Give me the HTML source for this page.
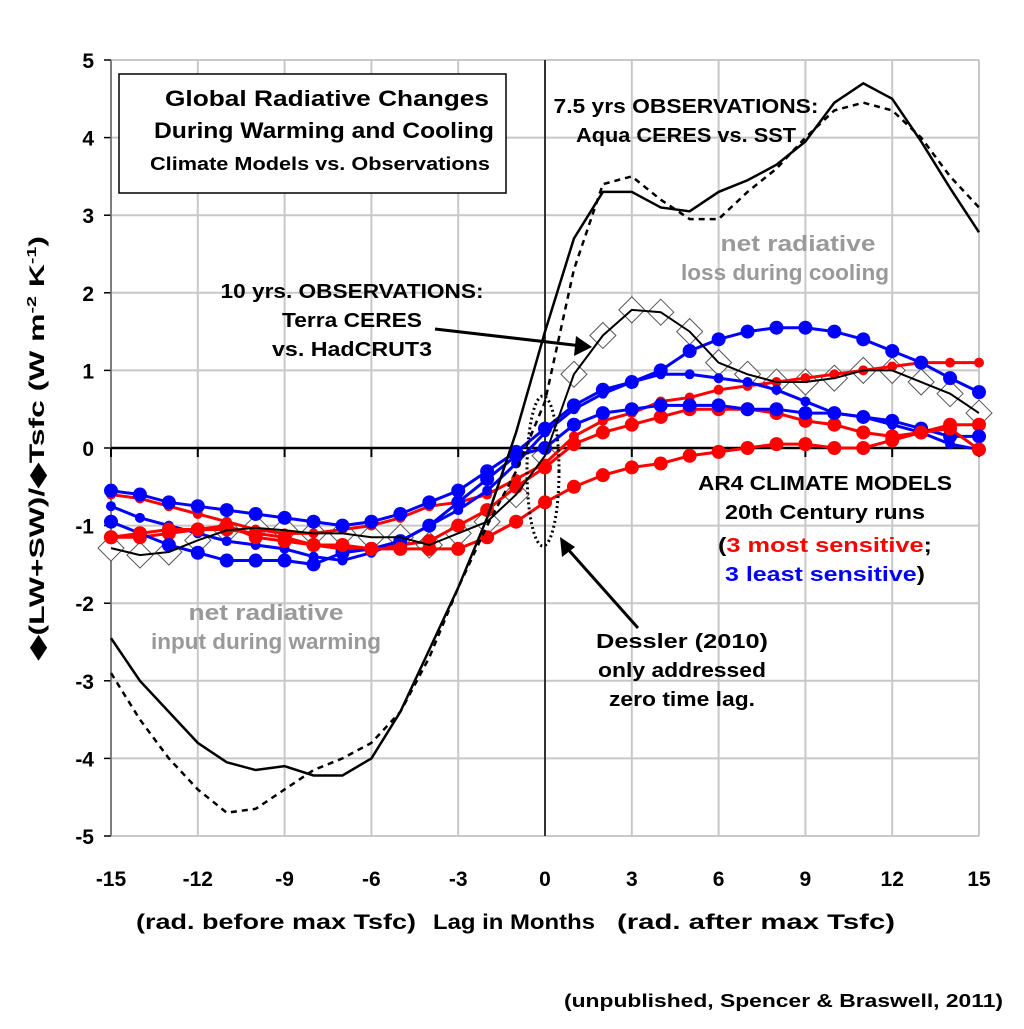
<!DOCTYPE html>
<html><head><meta charset="utf-8"><style>
body{margin:0;background:#fff}
svg text{font-family:"Liberation Sans",Arial,sans-serif;font-weight:bold}
</style></head><body>
<svg id="s" width="1024" height="1024" xmlns="http://www.w3.org/2000/svg">
<rect width="1024" height="1024" fill="#fff"/>
<g id="grid"></g>
<rect x="119" y="74" width="387" height="119" fill="#fff" stroke="#000" stroke-width="1.5"/>
<g lengthAdjust="spacingAndGlyphs">
<text x="327" y="106" font-size="22" text-anchor="middle" textLength="324" lengthAdjust="spacingAndGlyphs">Global Radiative Changes</text>
<text x="324" y="138" font-size="22" text-anchor="middle" textLength="340" lengthAdjust="spacingAndGlyphs">During Warming and Cooling</text>
<text x="320" y="170" font-size="18" text-anchor="middle" textLength="340" lengthAdjust="spacingAndGlyphs">Climate Models vs. Observations</text>
</g>
<g id="data"></g>
<g font-size="20" fill="#000">
<text x="686" y="113" text-anchor="middle" textLength="265" lengthAdjust="spacingAndGlyphs">7.5 yrs OBSERVATIONS:</text>
<text x="686" y="142" text-anchor="middle" textLength="220" lengthAdjust="spacingAndGlyphs">Aqua CERES vs. SST</text>
<text x="798" y="251" text-anchor="middle" fill="#999" font-size="22" textLength="155" lengthAdjust="spacingAndGlyphs">net radiative</text>
<text x="785" y="280" text-anchor="middle" fill="#999" font-size="22" textLength="208" lengthAdjust="spacingAndGlyphs">loss during cooling</text>
<text x="352" y="298" text-anchor="middle" textLength="263" lengthAdjust="spacingAndGlyphs">10 yrs. OBSERVATIONS:</text>
<text x="352" y="327" text-anchor="middle" textLength="140" lengthAdjust="spacingAndGlyphs">Terra CERES</text>
<text x="352" y="356" text-anchor="middle" textLength="160" lengthAdjust="spacingAndGlyphs">vs. HadCRUT3</text>
<text x="825" y="490" text-anchor="middle" textLength="254" lengthAdjust="spacingAndGlyphs">AR4 CLIMATE MODELS</text>
<text x="825" y="519" text-anchor="middle" textLength="200" lengthAdjust="spacingAndGlyphs">20th Century runs</text>
<text x="825" y="552" text-anchor="middle" textLength="214" lengthAdjust="spacingAndGlyphs"><tspan fill="#000">(</tspan><tspan fill="#f00">3 most sensitive</tspan>;</text>
<text x="825" y="581" text-anchor="middle" textLength="200" lengthAdjust="spacingAndGlyphs"><tspan fill="#00f">3 least sensitive</tspan>)</text>
<text x="266" y="620" text-anchor="middle" fill="#999" font-size="22" textLength="155" lengthAdjust="spacingAndGlyphs">net radiative</text>
<text x="266" y="649" text-anchor="middle" fill="#999" font-size="22" textLength="230" lengthAdjust="spacingAndGlyphs">input during warming</text>
<text x="682" y="648" text-anchor="middle" textLength="172" lengthAdjust="spacingAndGlyphs">Dessler (2010)</text>
<text x="682" y="677" text-anchor="middle" textLength="168" lengthAdjust="spacingAndGlyphs">only addressed</text>
<text x="682" y="706" text-anchor="middle" textLength="146" lengthAdjust="spacingAndGlyphs">zero time lag.</text>
</g>
<g font-size="21" text-anchor="middle" id="xt"></g>
<g font-size="21" text-anchor="end" id="yt"></g>
<text x="276" y="929" font-size="21" text-anchor="middle" textLength="280" lengthAdjust="spacingAndGlyphs">(rad. before max Tsfc)</text>
<text x="514" y="929" font-size="21" text-anchor="middle" textLength="162" lengthAdjust="spacingAndGlyphs">Lag in Months</text>
<text x="756" y="929" font-size="21" text-anchor="middle" textLength="278" lengthAdjust="spacingAndGlyphs">(rad. after max Tsfc)</text>
<text x="1003" y="1007" font-size="18" text-anchor="end" textLength="439" lengthAdjust="spacingAndGlyphs">(unpublished, Spencer &amp; Braswell, 2011)</text>
<text transform="translate(44,448) rotate(-90)" font-size="21" text-anchor="middle" textLength="424" lengthAdjust="spacingAndGlyphs">◆(LW+SW)/◆Tsfc (W m<tspan dy="-8" font-size="13">-2</tspan><tspan dy="8"> K</tspan><tspan dy="-8" font-size="13">-1</tspan><tspan dy="8">)</tspan></text>
</svg>
<script>
const NS="http://www.w3.org/2000/svg";
const X=v=>111+(v+15)*868/30, Y=v=>448-v*77.6;
function el(p,t,a,txt){const e=document.createElementNS(NS,t);for(const k in a)e.setAttribute(k,a[k]);if(txt!==undefined)e.textContent=txt;document.getElementById(p).appendChild(e);return e;}
for(let i=-15;i<=15;i+=3){el('grid','line',{x1:X(i),x2:X(i),y1:60,y2:836,stroke:'#c8c8c8','stroke-width':2});el('xt','text',{x:X(i),y:886},i);}
for(let v=-5;v<=5;v++){el('grid','line',{x1:111,x2:979,y1:Y(v),y2:Y(v),stroke:'#c8c8c8','stroke-width':2});el('yt','text',{x:94,y:Y(v)+8},v);el('grid','line',{x1:104,x2:111,y1:Y(v),y2:Y(v),stroke:'#000','stroke-width':1.5});}
el('grid','line',{x1:111,x2:111,y1:60,y2:836,stroke:'#666','stroke-width':1.5});
el('grid','line',{x1:111,x2:979,y1:Y(0),y2:Y(0),stroke:'#000','stroke-width':2.5});
el('grid','line',{x1:X(0),x2:X(0),y1:60,y2:836,stroke:'#000','stroke-width':1.5});
for(let i=-15;i<=15;i+=3)el('grid','line',{x1:X(i),x2:X(i),y1:Y(0),y2:Y(0)+9,stroke:'#000','stroke-width':2});
const pts=a=>a.map((v,i)=>X(i-15)+','+Y(v)).join(' ');
const aqua=[-2.45,-3.0,-3.4,-3.8,-4.05,-4.15,-4.1,-4.22,-4.22,-4.0,-3.4,-2.6,-1.8,-0.9,0.2,1.5,2.7,3.3,3.3,3.1,3.05,3.3,3.45,3.65,3.95,4.45,4.7,4.5,3.95,3.35,2.78];
const aquaD=[-2.9,-3.5,-4.0,-4.4,-4.7,-4.65,-4.4,-4.15,-4.0,-3.8,-3.4,-2.7,-1.8,-1.0,-0.3,0.6,2.3,3.4,3.5,3.2,2.95,2.95,3.3,3.6,4.0,4.35,4.45,4.35,4.0,3.5,3.1];
const terra=[-1.29,-1.38,-1.34,-1.19,-1.06,-1.03,-1.06,-1.1,-1.1,-1.15,-1.15,-1.25,-1.1,-0.95,-0.6,-0.1,0.95,1.45,1.78,1.75,1.5,1.1,0.95,0.85,0.85,0.9,1.0,1.0,0.85,0.7,0.45];
const B=[[-0.55,-0.6,-0.7,-0.75,-0.8,-0.85,-0.9,-0.95,-1.0,-0.95,-0.85,-0.7,-0.55,-0.3,-0.05,0.25,0.55,0.75,0.85,1.0,1.25,1.4,1.5,1.55,1.55,1.5,1.4,1.25,1.1,0.9,0.72],
[-0.75,-0.9,-1.0,-1.1,-1.2,-1.25,-1.3,-1.4,-1.45,-1.35,-1.2,-1.0,-0.8,-0.55,-0.2,0.2,0.5,0.7,0.85,0.95,0.95,0.9,0.85,0.75,0.6,0.45,0.4,0.3,0.2,0.05,-0.02],
[-0.95,-1.1,-1.25,-1.35,-1.45,-1.45,-1.45,-1.5,-1.35,-1.3,-1.2,-1.0,-0.7,-0.4,-0.1,0.0,0.3,0.45,0.5,0.55,0.55,0.55,0.5,0.5,0.45,0.45,0.4,0.35,0.25,0.15,0.15]];
const R=[[-0.6,-0.65,-0.75,-0.85,-0.95,-1.05,-1.1,-1.1,-1.05,-1.0,-0.9,-0.75,-0.7,-0.6,-0.4,-0.2,0.15,0.35,0.45,0.6,0.65,0.75,0.8,0.85,0.9,0.95,1.0,1.05,1.1,1.1,1.1],
[-1.15,-1.15,-1.1,-1.05,-1.05,-1.1,-1.15,-1.25,-1.3,-1.3,-1.25,-1.2,-1.0,-0.8,-0.5,-0.25,0.05,0.2,0.3,0.4,0.5,0.5,0.5,0.45,0.35,0.3,0.2,0.15,0.2,0.3,0.3],
[-1.15,-1.1,-1.05,-1.05,-1.0,-1.15,-1.2,-1.25,-1.25,-1.3,-1.3,-1.3,-1.3,-1.15,-0.95,-0.7,-0.5,-0.35,-0.25,-0.2,-0.1,-0.05,0.0,0.05,0.05,0.0,0.0,0.1,0.2,0.25,-0.02]];
terra.forEach((v,i)=>{const x=X(i-15),y=Y(v);el('data','polygon',{points:`${x},${y-13} ${x+13},${y} ${x},${y+13} ${x-13},${y}`,fill:'#fff',stroke:'#555','stroke-width':1});});
const series=[[R[0],'#f00',5],[B[0],'#00f',7],[B[1],'#00f',5],[R[1],'#f00',7],[B[2],'#00f',7],[R[2],'#f00',7]];
series.forEach(([a,c,r])=>{el('data','polyline',{points:pts(a),fill:'none',stroke:c,'stroke-width':3});a.forEach((v,i)=>el('data','circle',{cx:X(i-15),cy:Y(v),r:r,fill:c}));});
el('data','polyline',{points:pts(terra),fill:'none',stroke:'#000','stroke-width':2});
el('data','polyline',{points:pts(aqua),fill:'none',stroke:'#000','stroke-width':2.5});
el('data','polyline',{points:pts(aquaD),fill:'none',stroke:'#000','stroke-width':2.5,'stroke-dasharray':'6,5'});
el('data','ellipse',{cx:543,cy:471,rx:16,ry:75,fill:'none',stroke:'#000','stroke-width':3,'stroke-dasharray':'2,3'});
el('data','line',{x1:435,y1:329,x2:582,y2:346,stroke:'#000','stroke-width':3});
el('data','polygon',{points:'592,347 576,336 574,356',fill:'#000'});
el('data','line',{x1:638,y1:628,x2:566,y2:547,stroke:'#000','stroke-width':3});
el('data','polygon',{points:'560,537 562,557 575,547',fill:'#000'});
</script>
</body></html>
